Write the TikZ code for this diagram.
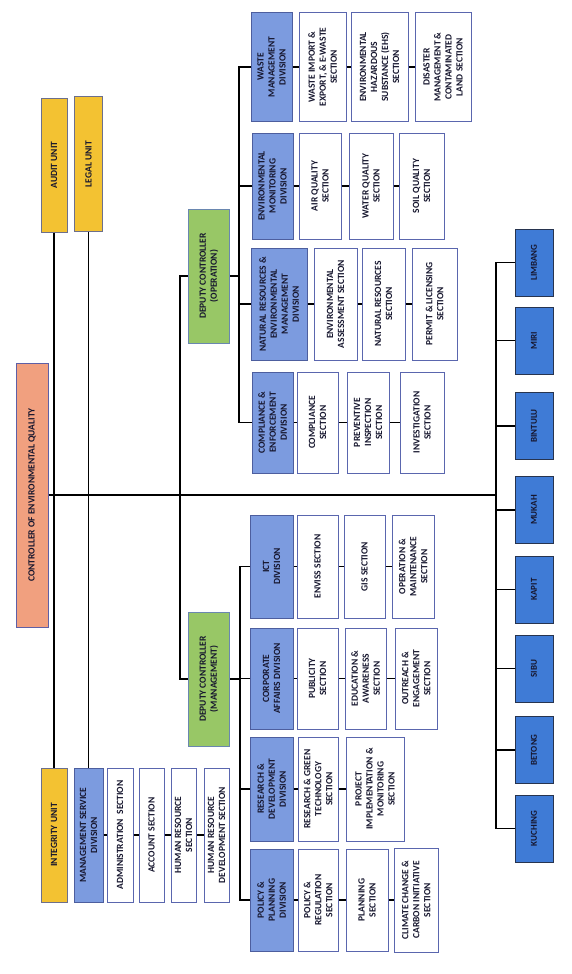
\documentclass[tikz,border=0pt]{standalone}
\usepackage{fontspec}
\setmainfont{Carlito}
\definecolor{unityellow}{HTML}{F3C232}
\definecolor{unitedge}{HTML}{6C6F8C}
\definecolor{ctrlfill}{HTML}{F1A07F}
\definecolor{ctrledge}{HTML}{5E5FA6}
\definecolor{deputyfill}{HTML}{98C766}
\definecolor{deputyedge}{HTML}{6A87B0}
\definecolor{divfill}{HTML}{7C9BDF}
\definecolor{divedge}{HTML}{4D5E9E}
\definecolor{secedge}{HTML}{5A66AE}
\definecolor{regionfill}{HTML}{3F7BD6}
\definecolor{regionedge}{HTML}{27344F}
\definecolor{labeltext}{HTML}{16162E}

\begin{document}
\begin{tikzpicture}[
        x=1pt, y=-1pt,
        orgbox/.style={
            rectangle,
            rotate=90,
            align=center,
            inner sep=1pt,
            line width=1pt,
            text=labeltext,
            font=\bfseries\fontsize{9.5}{11}\selectfont
        },
        dims/.style 2 args={minimum height=#1pt, minimum width=#2pt},
        unitbox/.style={orgbox, fill=unityellow, draw=unitedge, dims={26}{134}},
        ctrlbox/.style={orgbox, fill=ctrlfill, draw=ctrledge},
        deputybox/.style={orgbox, fill=deputyfill, draw=deputyedge, dims={41}{134}},
        divbox/.style={orgbox, fill=divfill, draw=divedge},
        secbox/.style={orgbox, fill=white, draw=secedge},
        regionbox/.style={orgbox, fill=regionfill, draw=regionedge, dims={38}{67},
            font=\bfseries\fontsize{9}{10}\selectfont},
        link/.style={line width=1.7pt, black}
    ]
    \useasboundingbox (0,0) rectangle (572,974);

    % top level
    \node[ctrlbox, dims={32}{264}] (ctrl) at (32,495) {CONTROLLER OF ENVIRONMENTAL QUALITY};
    \node[unitbox] (audit) at (54,165) {AUDIT UNIT};
    \node[unitbox, dims={28}{135}] (legal) at (88.5,164) {LEGAL UNIT};
    \node[unitbox] (integrity) at (54,835) {INTEGRITY UNIT};
    \node[divbox, dims={29}{134}] (msd) at (88.5,835) {MANAGEMENT SERVICE\\DIVISION};
    \node[deputybox] (dcop) at (209,276) {DEPUTY CONTROLLER\\(OPERATION)};
    \node[deputybox] (dcmg) at (209,679) {DEPUTY CONTROLLER\\(MANAGEMENT)};

    % management service sections
    \node[secbox, dims={26}{134}] (admin) at (120,835) {ADMINISTRATION~~SECTION};
    \node[secbox, dims={25}{134}] (account) at (151.5,835) {ACCOUNT SECTION};
    \node[secbox, dims={25}{134}] (hr) at (183.5,835) {HUMAN RESOURCE\\SECTION};
    \node[secbox, dims={25}{134}] (hrd) at (216.5,835) {HUMAN RESOURCE\\DEVELOPMENT SECTION};

    % operation divisions
    \node[divbox, dims={41}{108}] (waste) at (271.5,67) {WASTE\\MANAGEMENT\\DIVISION};
    \node[divbox, dims={41}{106}] (envmon) at (272.5,186) {ENVIRONMENTAL\\MONITORING\\DIVISION};
    \node[divbox, dims={56}{112}] (natres) at (279,304) {NATURAL RESOURCES \&\\ENVIRONMENTAL\\MANAGEMENT\\DIVISION};
    \node[divbox, dims={41}{101}] (compdiv) at (272.5,422.5) {COMPLIANCE \&\\ENFORCEMENT\\DIVISION};

    \node[secbox, dims={47}{108}] (wimport) at (322.5,67) {WASTE IMPORT \&\\EXPORT, \& E-WASTE\\SECTION};
    \node[secbox, dims={57}{108}] (ehs) at (379.5,67) {ENVIRONMENTAL\\HAZARDOUS\\SUBSTANCE (EHS)\\SECTION};
    \node[secbox, dims={56}{108}] (disaster) at (443,67) {DISASTER\\MANAGEMENT \&\\CONTAMINATED\\LAND SECTION};

    \node[secbox, dims={42}{106}] (air) at (320,186) {AIR QUALITY\\SECTION};
    \node[secbox, dims={44}{106}] (water) at (371,186) {WATER QUALITY\\SECTION};
    \node[secbox, dims={45}{106}] (soil) at (421.5,186) {SOIL QUALITY\\SECTION};

    \node[secbox, dims={43}{112}] (assess) at (335.5,304) {ENVIRONMENTAL\\ASSESSMENT SECTION};
    \node[secbox, dims={43}{112}] (nrsec) at (383.5,304) {NATURAL RESOURCES\\SECTION};
    \node[secbox, dims={45}{112}] (permit) at (434.5,304) {PERMIT \& LICENSING\\SECTION};

    \node[secbox, dims={41}{101}] (compsec) at (317.5,422.5) {COMPLIANCE\\SECTION};
    \node[secbox, dims={42}{101}] (prevent) at (368,422.5) {PREVENTIVE\\INSPECTION\\SECTION};
    \node[secbox, dims={44}{101}] (invest) at (422,422.5) {INVESTIGATION\\SECTION};

    % management divisions
    \node[divbox, dims={43}{103}] (ict) at (271.5,566.5) {ICT\\DIVISION};
    \node[divbox, dims={43}{101}] (corp) at (271.5,678.5) {CORPORATE\\AFFAIRS DIVISION};
    \node[divbox, dims={43}{104}] (rnd) at (271.5,789) {RESEARCH \&\\DEVELOPMENT\\DIVISION};
    \node[divbox, dims={43}{102}] (policy) at (271.5,900) {POLICY \&\\PLANNING\\DIVISION};

    \node[secbox, dims={41}{103}] (enviss) at (317.5,566.5) {ENVISS SECTION};
    \node[secbox, dims={41}{103}] (gis) at (364.5,566.5) {GIS SECTION};
    \node[secbox, dims={42}{103}] (opmaint) at (413,566.5) {OPERATION \&\\MAINTENANCE\\SECTION};

    \node[secbox, dims={41}{101}] (publicity) at (317.5,678.5) {PUBLICITY\\SECTION};
    \node[secbox, dims={41}{101}] (educ) at (365.5,678.5) {EDUCATION \&\\AWARENESS\\SECTION};
    \node[secbox, dims={42}{101}] (outreach) at (416,678.5) {OUTREACH \&\\ENGAGEMENT\\SECTION};

    \node[secbox, dims={40}{104}] (rgt) at (318,789) {RESEARCH \& GREEN\\TECHNOLOGY\\SECTION};
    \node[secbox, dims={58}{104}] (projimp) at (375,789) {PROJECT\\IMPLEMENTATION \&\\MONITORING\\SECTION};

    \node[secbox, dims={40}{102}] (polreg) at (318,900) {POLICY \&\\REGULATION\\SECTION};
    \node[secbox, dims={42}{102}] (planning) at (367,900) {PLANNING\\SECTION};
    \node[secbox, dims={44}{104}] (climate) at (416,900) {CLIMATE CHANGE \&\\CARBON INITIATIVE\\SECTION};

    % regional offices
    \node[regionbox] (limbang) at (534,262.5) {LIMBANG};
    \node[regionbox] (miri) at (534,340.5) {MIRI};
    \node[regionbox] (bintulu) at (534,426) {BINTULU};
    \node[regionbox] (mukah) at (534,510) {MUKAH};
    \node[regionbox] (kapit) at (534,589.5) {KAPIT};
    \node[regionbox] (sibu) at (534,668.5) {SIBU};
    \node[regionbox] (betong) at (534,750) {BETONG};
    \node[regionbox] (kuching) at (534,828.5) {KUCHING};

    % bus lines
    \coordinate (dcbus) at (180,0);
    \coordinate (opbus) at (239,0);
    \coordinate (mgbus) at (240,0);
    \coordinate (regbus) at (496,0);

    \draw[link] (audit) -- (integrity);
    \draw[link] (legal) -- (msd);
    \draw[link] (ctrl.south) -- (ctrl.south -| regbus);
    \draw[link] (dcop.north) -- (dcop.north -| dcbus) |- (dcmg.north);

    \draw[link] (dcop.south) -- (dcop.south -| opbus);
    \draw[link] (waste.north) -- (waste.north -| opbus) |- (compdiv.north);
    \draw[link] (envmon.north) -- (envmon.north -| opbus);
    \draw[link] (natres.north) -- (natres.north -| opbus);

    \draw[link] (dcmg.south) -- (dcmg.south -| mgbus);
    \draw[link] (ict.north) -- (ict.north -| mgbus) |- (policy.north);
    \draw[link] (corp.north) -- (corp.north -| mgbus);
    \draw[link] (rnd.north) -- (rnd.north -| mgbus);

    \draw[link] (limbang.north) -- (limbang.north -| regbus) |- (kuching.north);
    \foreach \reg in {miri,bintulu,mukah,kapit,sibu,betong}
        \draw[link] (\reg.north) -- (\reg.north -| regbus);

    % section chains
    \draw[link] (msd) -- (admin) -- (account) -- (hr) -- (hrd);
    \draw[link] (waste) -- (wimport) -- (ehs) -- (disaster);
    \draw[link] (envmon) -- (air) -- (water) -- (soil);
    \draw[link] (natres) -- (assess) -- (nrsec) -- (permit);
    \draw[link] (compdiv) -- (compsec) -- (prevent) -- (invest);
    \draw[link] (ict) -- (enviss) -- (gis) -- (opmaint);
    \draw[link] (corp) -- (publicity) -- (educ) -- (outreach);
    \draw[link] (rnd) -- (rgt) -- (projimp);
    \draw[link] (policy) -- (polreg) -- (planning) -- (climate);
\end{tikzpicture}
\end{document}
